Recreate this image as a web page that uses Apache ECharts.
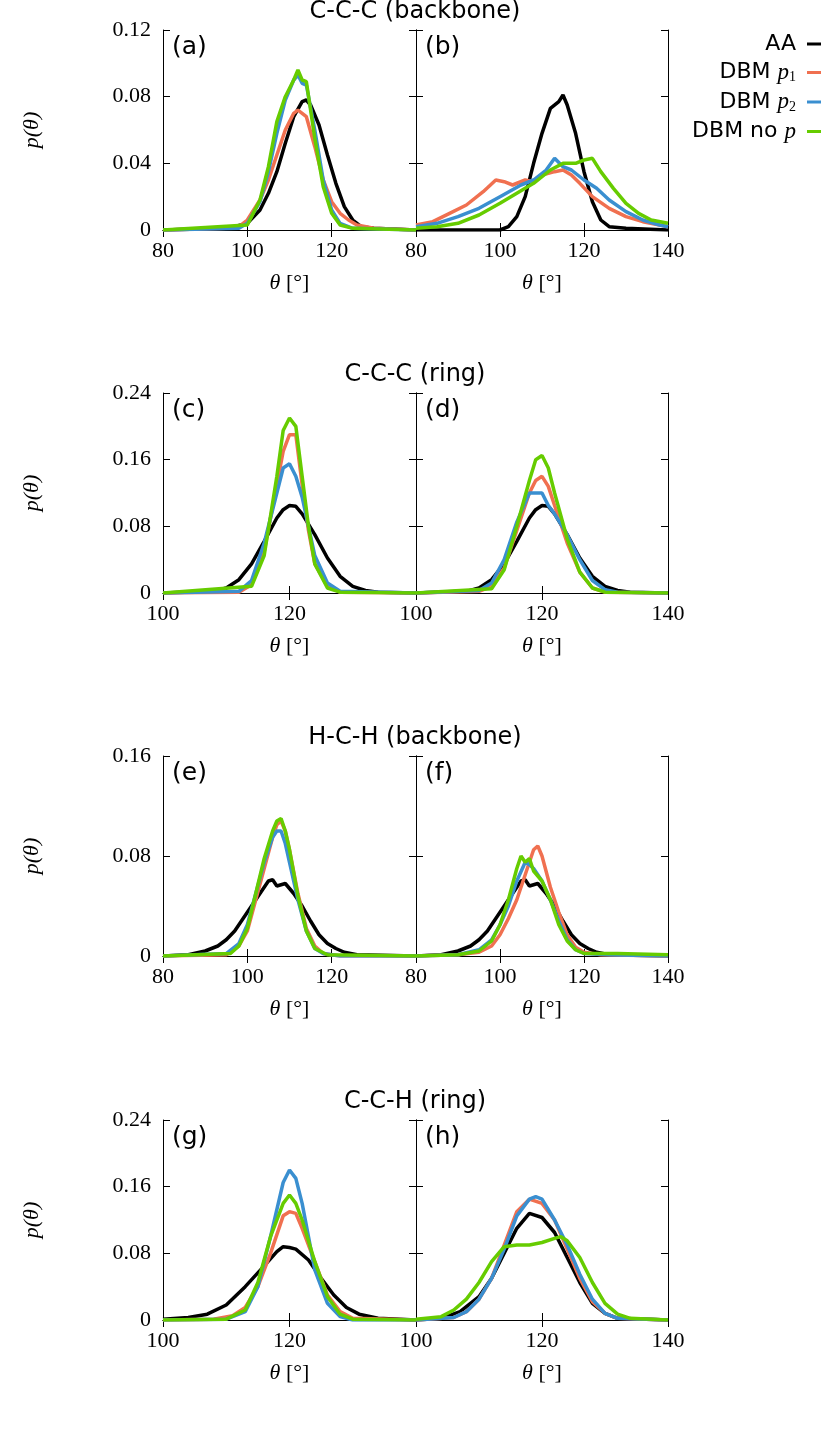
<!DOCTYPE html>
<html><head><meta charset="utf-8">
<script src="https://cdn.jsdelivr.net/npm/echarts@6/dist/echarts.min.js"></script>
<style>html,body{margin:0;padding:0;background:#fff}#c{width:830px;height:1453px}</style>
</head><body><div id="c"></div>
<script>
const seriesNames = ['AA','DBM p1','DBM p2','DBM no p'];
const colors = ['#000000','#f07050','#3a8fd0','#66cc00'];
const rowTitles = ['C-C-C (backbone)','C-C-C (ring)','H-C-H (backbone)','C-C-H (ring)'];
const panelLabels = ['(a)','(b)','(c)','(d)','(e)','(f)','(g)','(h)'];
const xRanges = [[80,140],[100,140],[80,140],[100,140]];
const yRanges = [[0,0.12,0.04],[0,0.24,0.08],[0,0.16,0.08],[0,0.24,0.08]];

// panel (a)
const a_AA=[[80,0],[95,0.001],[100,0.004],[103,0.012],[105,0.022],[107,0.035],[109,0.052],[111,0.068],[113,0.077],[114,0.078],[115,0.075],[117,0.063],[119,0.045],[121,0.028],[123,0.014],[125,0.006],[127,0.002],[130,0.001],[140,0]];
const a_p1=[[80,0],[95,0.001],[98,0.002],[100,0.006],[103,0.018],[105,0.03],[107,0.045],[109,0.06],[111,0.07],[112,0.072],[113,0.07],[114,0.068],[116,0.05],[118,0.03],[120,0.017],[122,0.01],[124,0.006],[126,0.003],[130,0.001],[140,0]];
const a_p2=[[80,0],[98,0.001],[100,0.004],[103,0.017],[105,0.035],[107,0.058],[109,0.078],[111,0.09],[112,0.093],[113,0.088],[114,0.087],[116,0.06],[118,0.03],[120,0.012],[122,0.004],[125,0.001],[140,0]];
const a_np=[[80,0],[100,0.003],[103,0.018],[105,0.038],[107,0.065],[109,0.08],[111,0.09],[112,0.096],[113,0.09],[114,0.089],[116,0.055],[118,0.026],[120,0.01],[122,0.003],[125,0.001],[140,0]];
// panel (b)
const b_AA=[[80,0],[100,0],[102,0.002],[104,0.008],[106,0.02],[108,0.04],[110,0.058],[112,0.073],[114,0.077],[115,0.081],[116,0.075],[118,0.058],[120,0.035],[122,0.017],[124,0.006],[126,0.002],[130,0.001],[140,0]];
const b_p1=[[80,0.003],[84,0.005],[88,0.01],[92,0.015],[96,0.023],[99,0.03],[101,0.029],[103,0.027],[106,0.03],[108,0.029],[110,0.033],[113,0.035],[115,0.036],[117,0.033],[119,0.028],[122,0.02],[126,0.013],[130,0.008],[134,0.005],[138,0.003],[140,0.002]];
const b_p2=[[80,0.002],[85,0.004],[90,0.008],[95,0.013],[100,0.02],[105,0.027],[108,0.03],[111,0.036],[113,0.043],[115,0.038],[117,0.036],[120,0.03],[123,0.025],[126,0.018],[130,0.011],[134,0.006],[138,0.003],[140,0.002]];
const b_np=[[80,0.001],[85,0.002],[90,0.004],[95,0.009],[100,0.016],[104,0.022],[108,0.028],[112,0.036],[115,0.04],[118,0.04],[120,0.042],[122,0.043],[124,0.035],[127,0.025],[130,0.016],[133,0.01],[136,0.006],[140,0.004]];
// panel (c)
const c_AA=[[100,0],[108,0.002],[110,0.006],[112,0.016],[114,0.035],[116,0.062],[118,0.09],[119,0.1],[120,0.105],[121,0.104],[122,0.095],[124,0.07],[126,0.042],[128,0.02],[130,0.008],[132,0.003],[134,0.001],[140,0]];
const c_p1=[[100,0],[112,0.001],[114,0.01],[116,0.05],[118,0.13],[119,0.17],[120,0.19],[121,0.19],[122,0.13],[123,0.075],[124,0.035],[126,0.008],[128,0.001],[140,0]];
const c_p2=[[100,0],[112,0.002],[114,0.015],[116,0.06],[118,0.12],[119,0.15],[120,0.155],[121,0.14],[122,0.115],[123,0.08],[124,0.045],[126,0.012],[128,0.002],[140,0]];
const c_np=[[100,0],[114,0.008],[116,0.045],[118,0.14],[119,0.195],[120,0.21],[121,0.2],[122,0.14],[123,0.08],[124,0.035],[126,0.006],[128,0.001],[140,0]];
// panel (d)
const d_AA=[[100,0],[108,0.002],[110,0.006],[112,0.016],[114,0.035],[116,0.062],[118,0.09],[119,0.1],[120,0.105],[121,0.104],[122,0.095],[124,0.07],[126,0.042],[128,0.02],[130,0.008],[132,0.003],[134,0.001],[140,0]];
const d_p1=[[100,0],[110,0.002],[112,0.008],[114,0.03],[116,0.075],[118,0.12],[119,0.135],[120,0.14],[121,0.128],[122,0.105],[124,0.06],[126,0.025],[128,0.006],[130,0.001],[140,0]];
const d_p2=[[100,0],[110,0.003],[112,0.012],[114,0.04],[116,0.085],[118,0.12],[119,0.12],[120,0.12],[121,0.105],[122,0.095],[124,0.07],[126,0.04],[128,0.015],[130,0.004],[132,0.001],[140,0]];
const d_np=[[100,0],[112,0.005],[114,0.028],[116,0.08],[118,0.135],[119,0.16],[120,0.165],[121,0.15],[122,0.12],[124,0.065],[126,0.025],[128,0.006],[130,0.001],[140,0]];
// panel (e)
const e_AA=[[80,0],[86,0.001],[90,0.004],[93,0.008],[95,0.013],[97,0.02],[99,0.03],[101,0.04],[103,0.05],[105,0.06],[106,0.061],[107,0.056],[109,0.058],[111,0.05],[113,0.04],[115,0.028],[117,0.017],[119,0.01],[121,0.006],[123,0.003],[126,0.001],[140,0]];
const e_p1=[[80,0],[95,0.001],[98,0.008],[100,0.02],[102,0.045],[104,0.07],[106,0.095],[107,0.105],[108,0.108],[109,0.1],[110,0.085],[112,0.05],[114,0.022],[116,0.008],[118,0.002],[122,0],[140,0]];
const e_p2=[[80,0],[95,0.002],[98,0.01],[100,0.025],[102,0.05],[104,0.075],[106,0.095],[107,0.1],[108,0.1],[109,0.09],[110,0.075],[112,0.045],[114,0.02],[116,0.006],[118,0.002],[122,0],[140,0]];
const e_np=[[80,0],[96,0.002],[98,0.008],[100,0.022],[102,0.05],[104,0.078],[106,0.1],[107,0.108],[108,0.11],[109,0.1],[110,0.085],[112,0.048],[114,0.02],[116,0.006],[119,0.001],[140,0]];
// panel (f)
const f_AA=[[80,0],[86,0.001],[90,0.004],[93,0.008],[95,0.013],[97,0.02],[99,0.03],[101,0.04],[103,0.05],[105,0.06],[106,0.061],[107,0.056],[109,0.058],[111,0.05],[113,0.04],[115,0.028],[117,0.017],[119,0.01],[121,0.006],[123,0.003],[126,0.001],[140,0]];
const f_p1=[[80,0],[90,0.001],[95,0.003],[98,0.008],[100,0.017],[102,0.03],[104,0.045],[106,0.065],[108,0.085],[109,0.088],[110,0.08],[112,0.055],[114,0.035],[116,0.017],[118,0.007],[120,0.003],[124,0.001],[140,0]];
const f_p2=[[80,0],[90,0.001],[95,0.005],[98,0.013],[100,0.025],[102,0.04],[104,0.06],[106,0.075],[107,0.073],[108,0.07],[110,0.06],[112,0.045],[114,0.028],[116,0.013],[118,0.005],[120,0.002],[126,0.001],[140,0]];
const f_np=[[80,0],[90,0.001],[95,0.004],[98,0.012],[100,0.025],[102,0.045],[104,0.07],[105,0.08],[106,0.075],[107,0.078],[108,0.068],[110,0.06],[112,0.045],[114,0.025],[116,0.012],[118,0.005],[120,0.002],[128,0.002],[140,0.001]];
// panel (g)
const g_AA=[[100,0.001],[104,0.003],[107,0.007],[110,0.018],[113,0.04],[116,0.065],[118,0.082],[119,0.088],[120,0.087],[121,0.085],[123,0.072],[125,0.05],[127,0.03],[129,0.015],[131,0.007],[134,0.002],[140,0]];
const g_p1=[[100,0],[108,0.001],[111,0.005],[113,0.015],[115,0.04],[117,0.08],[119,0.125],[120,0.13],[121,0.128],[122,0.11],[124,0.07],[126,0.03],[128,0.01],[130,0.002],[140,0]];
const g_p2=[[100,0],[110,0.001],[113,0.01],[115,0.04],[117,0.1],[119,0.165],[120,0.18],[121,0.17],[122,0.14],[123,0.1],[124,0.06],[126,0.02],[128,0.004],[130,0],[140,0]];
const g_np=[[100,0],[110,0.001],[113,0.012],[115,0.045],[117,0.1],[119,0.14],[120,0.15],[121,0.14],[122,0.12],[124,0.07],[126,0.028],[128,0.007],[130,0.001],[140,0]];
// panel (h)
const h_AA=[[100,0],[104,0.002],[107,0.01],[110,0.028],[112,0.05],[114,0.08],[116,0.11],[118,0.128],[120,0.123],[122,0.105],[124,0.075],[126,0.045],[128,0.02],[130,0.008],[132,0.002],[140,0]];
const h_p1=[[100,0],[106,0.003],[108,0.01],[110,0.025],[112,0.05],[114,0.09],[116,0.13],[118,0.145],[120,0.14],[122,0.12],[124,0.085],[126,0.05],[128,0.022],[130,0.008],[132,0.002],[140,0]];
const h_p2=[[100,0],[106,0.003],[108,0.01],[110,0.025],[112,0.05],[114,0.085],[116,0.125],[118,0.145],[119,0.148],[120,0.145],[122,0.12],[124,0.09],[126,0.055],[128,0.025],[130,0.008],[132,0.002],[140,0]];
const h_np=[[100,0.001],[104,0.004],[106,0.012],[108,0.025],[110,0.045],[112,0.07],[114,0.088],[116,0.09],[118,0.09],[120,0.093],[122,0.098],[123,0.1],[124,0.095],[126,0.075],[128,0.045],[130,0.02],[132,0.007],[134,0.002],[140,0]];

const panels=[[a_AA,a_p1,a_p2,a_np],[b_AA,b_p1,b_p2,b_np],[c_AA,c_p1,c_p2,c_np],[d_AA,d_p1,d_p2,d_np],
[e_AA,e_p1,e_p2,e_np],[f_AA,f_p1,f_p2,f_np],[g_AA,g_p1,g_p2,g_np],[h_AA,h_p1,h_p2,h_np]];

const rowTops=[30,393,756,1120], H=200, lefts=[163,416], W=[253,252];
const serif='"Liberation Serif","DejaVu Serif",serif';
const sans='"DejaVu Sans","Liberation Sans",sans-serif';
const grids=[],xAxes=[],yAxes=[],series=[],graphics=[];
for(let i=0;i<8;i++){
  const r=Math.floor(i/2), c=i%2;
  grids.push({left:lefts[c],top:rowTops[r],width:W[c],height:H});
  const xr=xRanges[r], yr=yRanges[r];
  const axLine={show:true,lineStyle:{color:'#000',width:1}};
  const tick={show:true,inside:true,length:7,lineStyle:{color:'#000'}};
  xAxes.push({type:'value',gridIndex:i,min:xr[0],max:xr[1],interval:20,axisLine:axLine,axisTick:tick,splitLine:{show:false},
    axisLabel:{color:'#000',fontFamily:serif,fontSize:22,margin:10,showMaxLabel:c===1},
    name:'{i|θ} [°]',nameLocation:'middle',nameGap:42,
    nameTextStyle:{fontFamily:serif,fontSize:22,color:'#000',rich:{i:{fontFamily:serif,fontSize:22,fontStyle:'italic',color:'#000'}}}});
  xAxes.push({type:'value',gridIndex:i,position:'top',min:xr[0],max:xr[1],interval:20,axisLine:axLine,axisTick:tick,axisLabel:{show:false},splitLine:{show:false}});
  yAxes.push({type:'value',gridIndex:i,min:yr[0],max:yr[1],interval:yr[2],axisLine:axLine,axisTick:tick,splitLine:{show:false},
    axisLabel:{show:c===0,color:'#000',fontFamily:serif,fontSize:22,margin:12,formatter:v=>v===0?'0':v.toFixed(2)},
    name:c===0?'{i|p}(θ)':'',nameLocation:'middle',nameGap:120,nameRotate:90,
    nameTextStyle:{fontFamily:serif,fontSize:22,fontStyle:'italic',color:'#000',rich:{i:{fontFamily:serif,fontSize:22,fontStyle:'italic',color:'#000'}}}});
  yAxes.push({type:'value',gridIndex:i,position:'right',min:yr[0],max:yr[1],interval:yr[2],axisLine:axLine,axisTick:tick,axisLabel:{show:false},splitLine:{show:false}});
  for(let s=0;s<4;s++){
    series.push({type:'line',name:seriesNames[s],xAxisIndex:2*i,yAxisIndex:2*i,data:panels[i][s],showSymbol:false,
      lineStyle:{color:colors[s],width:3.5},itemStyle:{color:colors[s]},z:s===0?2:3,animation:false});
  }
  graphics.push({type:'text',left:lefts[c]+9,top:rowTops[r]+5,style:{text:panelLabels[i],font:'25px '+sans,fill:'#000'}});
}
rowTitles.forEach((t,r)=>graphics.push({type:'text',left:'center',top:rowTops[r]-30,style:{text:t,font:'24px '+sans,fill:'#000'}}));

const chart=echarts.init(document.getElementById('c'));
chart.setOption({animation:false,grid:grids,xAxis:xAxes,yAxis:yAxes,series:series,graphic:graphics,
  legend:{right:4,top:28,orient:'vertical',align:'right',itemWidth:14,itemHeight:3,itemGap:6,icon:'rect',
    data:seriesNames,
    formatter:n=>({'AA':'AA','DBM p1':'DBM {i|p}{s|1}','DBM p2':'DBM {i|p}{s|2}','DBM no p':'DBM no {i|p}'})[n],
    textStyle:{fontFamily:sans,fontSize:22,color:'#000',padding:[0,6,0,0],rich:{i:{fontFamily:serif,fontStyle:'italic',fontSize:23,color:'#000'},s:{fontFamily:serif,fontSize:14,verticalAlign:'bottom',padding:[10,0,0,0],color:'#000'}}}}
});
</script></body></html>
